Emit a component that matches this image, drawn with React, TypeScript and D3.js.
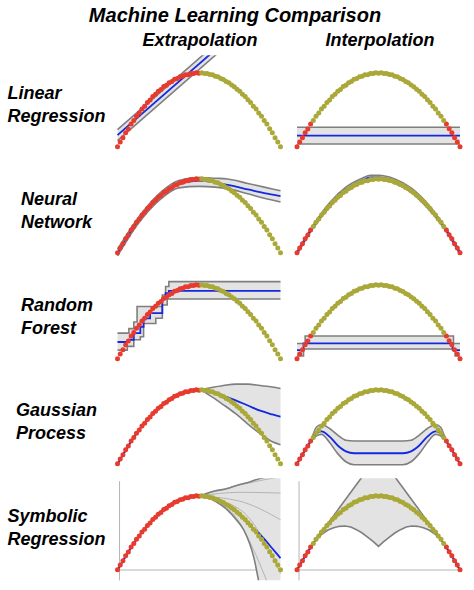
import React from 'react';
import * as d3 from 'd3';

const TITLE = 'Machine Learning Comparison';
const COLUMN_TITLES = ['Extrapolation', 'Interpolation'];
const ROW_LABELS = [
  ['Linear', 'Regression'],
  ['Neural', 'Network'],
  ['Random', 'Forest'],
  ['Gaussian', 'Process'],
  ['Symbolic', 'Regression'],
];

// the sampled parabola (same data in every panel)
const DATA_X = [-1, -0.967, -0.933, -0.9, -0.867, -0.833, -0.8, -0.767, -0.733, -0.7, -0.667, -0.633, -0.6, -0.567, -0.533, -0.5, -0.467, -0.433, -0.4, -0.367, -0.333, -0.3, -0.267, -0.233, -0.2, -0.167, -0.133, -0.1, -0.067, -0.033, 0, 0.033, 0.067, 0.1, 0.133, 0.167, 0.2, 0.233, 0.267, 0.3, 0.333, 0.367, 0.4, 0.433, 0.467, 0.5, 0.533, 0.567, 0.6, 0.633, 0.667, 0.7, 0.733, 0.767, 0.8, 0.833, 0.867, 0.9, 0.933, 0.967, 1];
const DATA_Y = [0.004, 0.068, 0.125, 0.194, 0.244, 0.31, 0.357, 0.416, 0.459, 0.514, 0.551, 0.603, 0.636, 0.683, 0.712, 0.754, 0.778, 0.816, 0.836, 0.869, 0.885, 0.914, 0.925, 0.95, 0.956, 0.976, 0.978, 0.994, 0.992, 1.003, 0.998, 1.002, 0.993, 0.993, 0.979, 0.975, 0.957, 0.949, 0.926, 0.913, 0.886, 0.868, 0.837, 0.815, 0.779, 0.753, 0.713, 0.682, 0.637, 0.602, 0.552, 0.513, 0.46, 0.415, 0.357, 0.31, 0.245, 0.193, 0.126, 0.067, 0.003];

// model predictions: [x, lower, mean, upper]
const linearExtrap = [[-1, 0.085, 0.16, 0.235], [0.3, 1.335, 1.41, 1.485]];
const linearInterp = [[-1, 0.04, 0.153, 0.266], [1, 0.04, 0.153, 0.266]];

const neuralExtrap = [
  [-1, -0.04, 0.0, 0.05], [-0.75, 0.39, 0.43, 0.47], [-0.5, 0.7, 0.74, 0.79],
  [-0.25, 0.88, 0.93, 0.98], [0, 0.9, 0.98, 1.02], [0.2, 0.89, 0.95, 1.01],
  [0.35, 0.87, 0.92, 1.0], [0.6, 0.8, 0.86, 0.94], [0.8, 0.74, 0.81, 0.89], [1, 0.69, 0.77, 0.84],
];
const neuralInterp = [
  [-1, -0.02, 0.0, 0.02], [-0.8, 0.34, 0.36, 0.38], [-0.6, 0.62, 0.65, 0.68],
  [-0.4, 0.83, 0.86, 0.89], [-0.2, 0.95, 0.98, 1.01], [-0.1, 0.99, 1.02, 1.05],
  [0, 0.99, 1.02, 1.05], [0.2, 0.94, 0.97, 1.0], [0.4, 0.82, 0.85, 0.88],
  [0.6, 0.61, 0.64, 0.67], [0.8, 0.34, 0.36, 0.38], [1, -0.02, 0.0, 0.02],
];

const forestExtrap = [
  [-1, 0.12, 0.23, 0.35], [-0.88, 0.17, 0.23, 0.35], [-0.86, 0.17, 0.26, 0.41],
  [-0.8, 0.26, 0.35, 0.5], [-0.76, 0.26, 0.35, 0.71], [-0.72, 0.3, 0.435, 0.71],
  [-0.68, 0.48, 0.55, 0.71], [-0.6, 0.48, 0.62, 0.71], [-0.53, 0.55, 0.62, 0.71],
  [-0.45, 0.73, 0.82, 0.865], [-0.41, 0.73, 0.89, 0.98], [-0.39, 0.81, 0.89, 0.98],
  [-0.37, 0.81, 0.92, 1.045], [1, 0.81, 0.92, 1.045],
];
const forestInterp = [
  [-1, 0.04, 0.12, 0.21], [-0.92, 0.135, 0.21, 0.21], [-0.9, 0.135, 0.21, 0.31],
  [0.91, 0.135, 0.12, 0.31], [0.92, 0.135, 0.12, 0.21], [0.94, 0.04, 0.12, 0.21],
  [1, 0.04, 0.12, 0.21],
];

const gaussianExtrap = [
  [-1, 0, 0, 0], [-0.75, 0.44, 0.44, 0.44], [-0.5, 0.75, 0.75, 0.75], [-0.25, 0.94, 0.94, 0.94],
  [0, 1.0, 1.0, 1.0], [0.14, 0.92, 0.97, 1.03], [0.3, 0.8, 0.92, 1.06], [0.45, 0.68, 0.86, 1.08],
  [0.6, 0.54, 0.79, 1.08], [0.75, 0.41, 0.72, 1.06], [0.9, 0.3, 0.67, 1.04], [1, 0.26, 0.64, 1.02],
];
const gaussianInterp = [
  [-1, 0, 0, 0], [-0.9, 0.19, 0.19, 0.19], [-0.83, 0.3, 0.31, 0.32], [-0.76, 0.38, 0.42, 0.5],
  [-0.7, 0.4, 0.44, 0.53], [-0.6, 0.29, 0.37, 0.48], [-0.5, 0.14, 0.25, 0.39], [-0.4, 0.03, 0.17, 0.32],
  [-0.3, -0.01, 0.145, 0.31], [0.3, -0.01, 0.145, 0.31], [0.4, 0.03, 0.17, 0.32], [0.5, 0.14, 0.25, 0.39],
  [0.6, 0.29, 0.37, 0.48], [0.7, 0.4, 0.44, 0.53], [0.76, 0.38, 0.42, 0.5], [0.83, 0.3, 0.31, 0.32],
  [0.9, 0.19, 0.19, 0.19], [1, 0, 0, 0],
];

const symbolicExtrap = [
  [-1, 0, 0, 0], [-0.75, 0.44, 0.44, 0.44], [-0.5, 0.75, 0.75, 0.75], [-0.25, 0.94, 0.94, 0.94],
  [0, 1.0, 1.0, 1.0], [0.2, 0.93, 0.96, 1.07], [0.35, 0.81, 0.88, 1.1], [0.45, 0.69, 0.79, 1.14],
  [0.55, 0.54, 0.69, 1.17], [0.62, 0.36, 0.61, 1.19], [0.67, 0.18, 0.56, 1.21], [0.73, -0.14, 0.5, 1.23],
  [0.8, -0.6, 0.42, 1.25], [0.9, -1.2, 0.29, 1.29], [1, -2, 0.16, 1.32],
];
// the other candidate equations of the symbolic regression
const symbolicCandidates = [
  [[0, 1], [0.5, 1.15], [1, 1.26]],
  [[0, 1], [0.5, 1.05], [1, 1.04]],
  [[0, 1], [0.5, 0.93], [1, 0.68]],
  [[0, 1], [0.5, 0.82], [0.8, 0.4], [1, -0.05]],
  [[0, 1], [0.4, 0.78], [0.7, 0.2], [0.85, -0.2]],
];
const symbolicInterp = [
  [-1, 0, 0, 0], [-0.9, 0.19, 0.19, 0.19], [-0.8, 0.36, 0.36, 0.36], [-0.75, 0.43, 0.44, 0.44],
  [-0.7, 0.48, 0.51, 0.51], [-0.62, 0.54, 0.62, 0.63], [-0.55, 0.57, 0.7, 0.735], [-0.48, 0.59, 0.77, 0.84],
  [-0.41, 0.595, 0.83, 0.945], [-0.34, 0.58, 0.88, 1.05], [-0.27, 0.545, 0.93, 1.155], [-0.2, 0.5, 0.96, 1.26],
  [-0.13, 0.44, 0.98, 1.365], [-0.06, 0.38, 0.996, 1.47], [0, 0.32, 1.0, 1.56],
  [0.06, 0.38, 0.996, 1.47], [0.13, 0.44, 0.98, 1.365], [0.2, 0.5, 0.96, 1.26], [0.27, 0.545, 0.93, 1.155],
  [0.34, 0.58, 0.88, 1.05], [0.41, 0.595, 0.83, 0.945], [0.48, 0.59, 0.77, 0.84], [0.55, 0.57, 0.7, 0.735],
  [0.62, 0.54, 0.62, 0.63], [0.7, 0.48, 0.51, 0.51], [0.75, 0.43, 0.44, 0.44], [0.8, 0.36, 0.36, 0.36],
  [0.9, 0.19, 0.19, 0.19], [1, 0, 0, 0],
];

const PANELS = [
  { row: 0, col: 0, model: linearExtrap, curve: d3.curveLinear },
  { row: 0, col: 1, model: linearInterp, curve: d3.curveLinear },
  { row: 1, col: 0, model: neuralExtrap, curve: d3.curveMonotoneX },
  { row: 1, col: 1, model: neuralInterp, curve: d3.curveMonotoneX },
  { row: 2, col: 0, model: forestExtrap, curve: d3.curveStepAfter },
  { row: 2, col: 1, model: forestInterp, curve: d3.curveStepAfter },
  { row: 3, col: 0, model: gaussianExtrap, curve: d3.curveMonotoneX },
  { row: 3, col: 1, model: gaussianInterp, curve: d3.curveMonotoneX },
  { row: 4, col: 0, model: symbolicExtrap, curve: d3.curveMonotoneX, candidates: symbolicCandidates, axes: true },
  { row: 4, col: 1, model: symbolicInterp, curve: d3.curveLinear, axes: true },
];

const W = 474;
const H = 590;
const ROW_BOTTOM = [147, 253, 359, 464, 570];
const COL_RANGE = [[117.5, 280.5], [297, 460]];
const UNIT_H = 74;

const RED = '#e63b2e';
const OLIVE = '#a9a838';
const BLUE = '#1428e0';
const GRAY = '#7f7f7f';
const FILL = '#e3e3e3';
const FONT = '"Liberation Sans", Arial, Helvetica, sans-serif';

const isTraining = (col, x) => (col === 0 ? x <= 0.001 : Math.abs(x) >= 0.82);

function Panel({ spec, idx }) {
  const { row, col, model, curve, candidates, axes } = spec;
  const bottom = ROW_BOTTOM[row];
  const x = d3.scaleLinear().domain([-1, 1]).range(COL_RANGE[col]);
  const y = d3.scaleLinear().domain([0, 1]).range([bottom, bottom - UNIT_H]);

  const area = d3.area().x(d => x(d[0])).y0(d => y(d[1])).y1(d => y(d[3])).curve(curve);
  const line = (k) => d3.line().x(d => x(d[0])).y(d => y(d[k])).curve(curve)(model);
  const thin = d3.line().x(d => x(d[0])).y(d => y(d[1])).curve(d3.curveMonotoneX);

  const clipId = `clip-${idx}`;
  const cx0 = x(-1.03);
  const cx1 = x(1.03);
  const cy0 = y(1.24);
  const cy1 = y(-0.14);

  const points = DATA_X.map((v, i) => [v, DATA_Y[i]]);
  const train = points.filter(p => isTraining(col, p[0]));
  const test = points.filter(p => !isTraining(col, p[0]));

  return (
    <g>
      <defs>
        <clipPath id={clipId}>
          <rect x={cx0} y={cy0} width={cx1 - cx0} height={cy1 - cy0} />
        </clipPath>
      </defs>
      {axes && (
        <g stroke="#b5b5b5" strokeWidth={1}>
          <line x1={x(-0.975)} x2={x(-0.975)} y1={y(1.2)} y2={y(-0.14)} />
          <line x1={x(-0.975)} x2={x(1)} y1={y(0)} y2={y(0)} />
        </g>
      )}
      <g clipPath={`url(#${clipId})`}>
        <path d={area(model)} fill={FILL} stroke="none" />
        {candidates && candidates.map((c, i) => (
          <path key={i} d={thin(c)} fill="none" stroke="#a8a8a8" strokeWidth={0.8} />
        ))}
        <path d={line(1)} fill="none" stroke={GRAY} strokeWidth={1.6} />
        <path d={line(3)} fill="none" stroke={GRAY} strokeWidth={1.6} />
        <path d={line(2)} fill="none" stroke={BLUE} strokeWidth={1.8} />
      </g>
      {train.map((p, i) => (
        <circle key={`r${i}`} cx={x(p[0])} cy={y(p[1])} r={2.5} fill={RED} />
      ))}
      {test.map((p, i) => (
        <circle key={`o${i}`} cx={x(p[0])} cy={y(p[1])} r={2.5} fill={OLIVE} />
      ))}
    </g>
  );
}

export default function App() {
  return (
    <svg width={W} height={H} style={{ position: 'absolute', left: 0, top: 0, background: '#fff' }}
      fontFamily={FONT} fontWeight="bold" fontStyle="italic">
      <text x={235} y={22} textAnchor="middle" fontSize={20}>{TITLE}</text>
      <text x={200} y={46} textAnchor="middle" fontSize={18}>{COLUMN_TITLES[0]}</text>
      <text x={380} y={46} textAnchor="middle" fontSize={18}>{COLUMN_TITLES[1]}</text>
      {ROW_LABELS.map((lines, r) => {
        const left = [7.5, 21, 21, 16, 7.5][r];
        return (
          <text key={r} x={left} fontSize={18}>
            {lines.map((t, i) => (
              <tspan key={i} x={left} y={ROW_BOTTOM[r] - 48 + i * 23}>{t}</tspan>
            ))}
          </text>
        );
      })}
      {PANELS.map((p, i) => <Panel key={i} spec={p} idx={i} />)}
    </svg>
  );
}
